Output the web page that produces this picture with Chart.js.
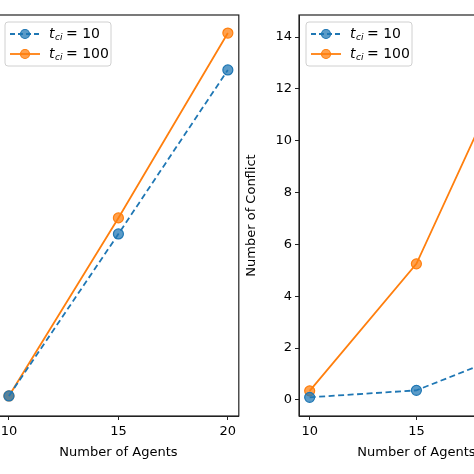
<!DOCTYPE html>
<html><head><meta charset="utf-8">
<script src="https://cdn.jsdelivr.net/npm/chart.js@4"></script>
<style>html,body{margin:0;padding:0;width:474px;height:474px;overflow:hidden;background:#fff;position:relative}
canvas{position:absolute;top:0}</style></head><body>
<div id="w1" style="position:absolute;left:-61px;top:0;width:306px;height:474px"><canvas id="c1"></canvas></div>
<div id="w2" style="position:absolute;left:240px;top:0;width:300px;height:474px"><canvas id="c2"></canvas></div>
<script>
const agents = [10, 15, 20];
const seriesNames = ['10', '100'];
const leftBlue = [0.0, 4.04, 8.13];
const leftOrange = [0.0, 4.44, 9.05];
const conflictBlue = [0.1, 0.37, 2.0];
const conflictOrange = [0.35, 5.25, 14.2];
const conflictTicks = [0, 2, 4, 6, 8, 10, 12, 14];
const BLUE = '#1f77b4', ORANGE = '#ff7f0e';
const FONT = 'DejaVu Sans';

const framePlugin = {
  id: 'frame',
  afterDraw(chart) {
    const {ctx, chartArea: a} = chart;
    ctx.save();
    ctx.strokeStyle = '#222'; ctx.lineWidth = 1.2;
    ctx.strokeRect(a.left, a.top, a.right - a.left, a.bottom - a.top);
    const x = a.left + 7, y = a.top + 7, w = 106, h = 44;
    ctx.fillStyle = 'rgba(255,255,255,0.85)';
    ctx.strokeStyle = '#d0d0d0'; ctx.lineWidth = 1;
    ctx.beginPath(); ctx.roundRect(x, y, w, h, 3); ctx.fill(); ctx.stroke();
    const rows = [[BLUE, [5, 3], seriesNames[0]], [ORANGE, [], seriesNames[1]]];
    rows.forEach((r, i) => {
      const cy = y + 12 + i * 20;
      ctx.strokeStyle = r[0]; ctx.lineWidth = 1.8; ctx.setLineDash(r[1]);
      ctx.beginPath(); ctx.moveTo(x + 5, cy); ctx.lineTo(x + 35, cy); ctx.stroke();
      ctx.setLineDash([]);
      ctx.beginPath(); ctx.arc(x + 20, cy, 4.5, 0, Math.PI * 2);
      ctx.fillStyle = r[0] + 'bb'; ctx.fill(); ctx.lineWidth = 1.2; ctx.stroke();
      ctx.fillStyle = '#000'; ctx.textBaseline = 'middle';
      ctx.font = 'italic 14px ' + FONT; ctx.fillText('t', x + 44, cy);
      ctx.font = 'italic 9px ' + FONT; ctx.fillText('ci', x + 50, cy + 4);
      ctx.font = '14px ' + FONT; ctx.fillText('= ' + r[2], x + 61, cy);
    });
    ctx.restore();
  }
};

function ds(data, color, dash) {
  return {data, borderColor: color, backgroundColor: color + 'bb', borderWidth: 1.8,
    borderDash: dash, pointRadius: 5, pointHoverRadius: 5, pointBorderWidth: 1.2,
    pointBorderColor: color, tension: 0};
}

function make(id, blue, orange, yopts, yTitle, padRight) {
  new Chart(document.getElementById(id), {
    type: 'line',
    data: {datasets: [
      ds(agents.map((a, i) => ({x: a, y: blue[i]})), BLUE, [6, 3.5]),
      ds(agents.map((a, i) => ({x: a, y: orange[i]})), ORANGE, [])
    ]},
    options: {
      responsive: true, maintainAspectRatio: false, animation: false,
      layout: {padding: {top: 15, right: padRight, left: 0, bottom: 14}},
      plugins: {legend: {display: false}, tooltip: {enabled: false}},
      scales: {
        x: {type: 'linear', min: 9.5, max: 20.5,
          afterBuildTicks: s => { s.ticks = agents.map(v => ({value: v})); },
          afterFit: s => { s.height = 44; },
          grid: {drawOnChartArea: false, drawTicks: true, tickLength: 4, color: '#222'},
          border: {color: '#222'},
          ticks: {color: '#000', font: {family: FONT, size: 13}, padding: 4},
          title: {display: true, text: 'Number of Agents', color: '#000', font: {family: FONT, size: 13}, padding: {top: 0, bottom: 0}}
        },
        y: Object.assign({
          afterFit: s => { s.width = 59; },
          grid: {drawOnChartArea: false, drawTicks: true, tickLength: 4, color: '#222'},
          border: {color: '#222'},
          ticks: {color: '#000', font: {family: FONT, size: 13}, padding: 3},
          title: {display: !!yTitle, text: yTitle, color: '#000', font: {family: FONT, size: 13}, padding: {bottom: 2}}
        }, yopts)
      }
    },
    plugins: [framePlugin]
  });
}

make('c1', leftBlue, leftOrange, {min: -0.5, max: 9.5, ticks: {display: false}}, '', 1);
make('c2', conflictBlue, conflictOrange, {min: -0.62, max: 14.85,
  afterBuildTicks: s => { s.ticks = conflictTicks.map(v => ({value: v})); }}, 'Number of Conflict', 3);
</script></body></html>
